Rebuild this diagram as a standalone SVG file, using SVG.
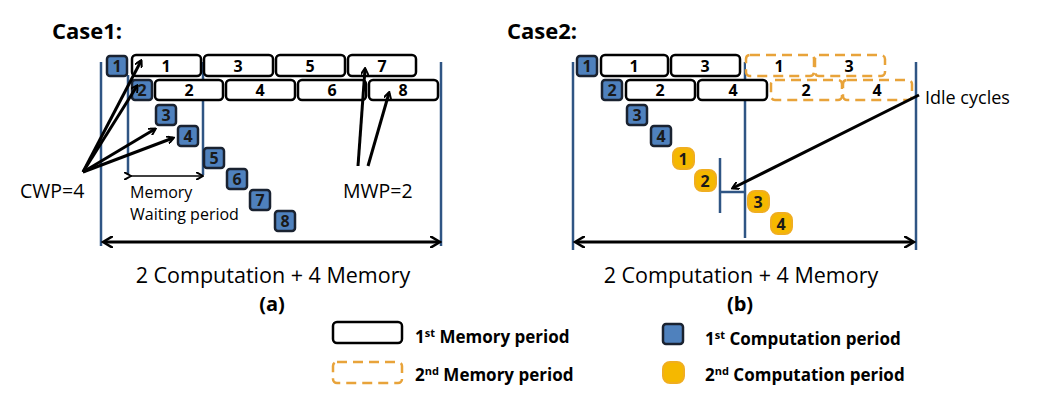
<svg xmlns="http://www.w3.org/2000/svg" width="1050" height="416" viewBox="0 0 1050 416">
<style>
text{font-family:"Open Sans","Noto Sans","Liberation Sans",sans-serif;fill:#000}
.b{font-weight:bold}
.mem{fill:#fff;stroke:#000;stroke-width:2.5}
.mem2{fill:#fff;stroke:#e8a33a;stroke-width:2.5;stroke-dasharray:10,6}
.cp{fill:#4f81bd;stroke:#1a2230;stroke-width:2.5}
.cp2{fill:#f5b800;stroke:#f0ae20;stroke-width:2}
.vl{stroke:#2f5584;stroke-width:2.5;fill:none}
.ar{stroke:#000;stroke-width:3;fill:none}
.n{font-size:16px;font-weight:bold;text-anchor:middle}
.ci{font-size:16px;font-weight:bold;text-anchor:middle;fill:#1a1a1a}
</style>
<defs>
<marker id="ah" markerWidth="8" markerHeight="8" refX="6" refY="4" orient="auto" markerUnits="userSpaceOnUse" viewBox="0 0 8 8"><path d="M0,0 L7,4 L0,8" fill="none" stroke="#000" stroke-width="2"/></marker>
<marker id="as" markerWidth="12" markerHeight="12" refX="9" refY="6" orient="auto-start-reverse" markerUnits="userSpaceOnUse"><path d="M0,0 L10,6 L0,12" fill="none" stroke="#000" stroke-width="2.5"/></marker>
</defs>
<text x="52" y="39" class="b" font-size="22">Case1:</text>
<text x="507" y="39" class="b" font-size="22">Case2:</text>

<g id="lines">
<line class="vl" x1="101" y1="62" x2="101" y2="246"/>
<line class="vl" x1="441" y1="62" x2="441" y2="246"/>
<line class="vl" x1="128" y1="75" x2="128" y2="175"/>
<line class="vl" x1="203" y1="62" x2="203" y2="175"/>
<line class="vl" x1="573" y1="62" x2="573" y2="250"/>
<line class="vl" x1="745" y1="62" x2="745" y2="238"/>
<line class="vl" x1="916" y1="62" x2="916" y2="250"/>
<line class="vl" x1="720" y1="158" x2="720" y2="213"/>
<line class="vl" x1="720" y1="192" x2="745" y2="192"/>
</g>

<g id="case1-mem">
<rect class="mem" x="132" y="55" width="69" height="21" rx="4"/><text class="n" x="166" y="72">1</text>
<rect class="mem" x="204" y="55" width="69" height="21" rx="4"/><text class="n" x="238" y="72">3</text>
<rect class="mem" x="276" y="55" width="69" height="21" rx="4"/><text class="n" x="310" y="72">5</text>
<rect class="mem" x="348" y="55" width="68" height="21" rx="4"/><text class="n" x="382" y="72">7</text>
<rect class="mem" x="155" y="80" width="68" height="20" rx="4"/><text class="n" x="189" y="96">2</text>
<rect class="mem" x="226" y="80" width="69" height="20" rx="4"/><text class="n" x="260" y="96">4</text>
<rect class="mem" x="298" y="80" width="68" height="20" rx="4"/><text class="n" x="332" y="96">6</text>
<rect class="mem" x="369" y="80" width="69" height="20" rx="4"/><text class="n" x="403" y="96">8</text>
</g>
<g id="case1-comp">
<rect class="cp" x="107" y="56" width="20" height="20" rx="3"/><text class="ci" x="117" y="72">1</text>
<rect class="cp" x="132" y="80" width="20" height="20" rx="3"/><text class="ci" x="142" y="96">2</text>
<rect class="cp" x="156" y="105" width="20" height="20" rx="3"/><text class="ci" x="166" y="121">3</text>
<rect class="cp" x="178" y="126" width="20" height="20" rx="3"/><text class="ci" x="188" y="142">4</text>
<rect class="cp" x="204" y="148" width="20" height="20" rx="3"/><text class="ci" x="214" y="164">5</text>
<rect class="cp" x="227" y="169" width="20" height="20" rx="3"/><text class="ci" x="237" y="185">6</text>
<rect class="cp" x="250" y="190" width="20" height="20" rx="3"/><text class="ci" x="260" y="206">7</text>
<rect class="cp" x="275" y="211" width="20" height="20" rx="3"/><text class="ci" x="285" y="227">8</text>
</g>

<g id="case2-mem">
<rect class="mem" x="601" y="55" width="67" height="21" rx="4"/><text class="n" x="634" y="72">1</text>
<rect class="mem" x="671" y="55" width="69" height="21" rx="4"/><text class="n" x="705" y="72">3</text>
<rect class="mem2" x="746" y="55" width="68" height="21" rx="4"/><text class="n" x="779" y="72">1</text>
<rect class="mem2" x="815" y="55" width="70" height="21" rx="4"/><text class="n" x="849" y="72">3</text>
<rect class="mem" x="626" y="80" width="69" height="20" rx="4"/><text class="n" x="660" y="96">2</text>
<rect class="mem" x="698" y="80" width="69" height="20" rx="4"/><text class="n" x="733" y="96">4</text>
<rect class="mem2" x="771" y="80" width="71" height="20" rx="4"/><text class="n" x="806" y="96">2</text>
<rect class="mem2" x="843" y="80" width="69" height="20" rx="4"/><text class="n" x="877" y="96">4</text>
</g>
<g id="case2-comp">
<rect class="cp" x="577" y="56" width="20" height="20" rx="3"/><text class="ci" x="587" y="72">1</text>
<rect class="cp" x="602" y="80" width="20" height="20" rx="3"/><text class="ci" x="612" y="96">2</text>
<rect class="cp" x="627" y="105" width="20" height="20" rx="3"/><text class="ci" x="637" y="121">3</text>
<rect class="cp" x="651" y="126" width="20" height="20" rx="3"/><text class="ci" x="661" y="142">4</text>
<rect class="cp2" x="673" y="148" width="21" height="21" rx="7"/><text class="ci" x="683" y="165">1</text>
<rect class="cp2" x="695" y="170" width="21" height="21" rx="7"/><text class="ci" x="705" y="187">2</text>
<rect class="cp2" x="748" y="191" width="21" height="21" rx="7"/><text class="ci" x="758" y="208">3</text>
<rect class="cp2" x="771" y="213" width="21" height="21" rx="7"/><text class="ci" x="781" y="230">4</text>
</g>

<g id="connectors">
<line class="ar" x1="83" y1="172" x2="141" y2="61" marker-end="url(#ah)"/>
<line class="ar" x1="83" y1="172" x2="137" y2="86" marker-end="url(#ah)"/>
<line class="ar" x1="83" y1="172" x2="155" y2="129" marker-end="url(#ah)"/>
<line class="ar" x1="83" y1="172" x2="173" y2="138" marker-end="url(#ah)"/>
<line class="ar" x1="358" y1="166" x2="365" y2="69" marker-end="url(#ah)"/>
<line class="ar" x1="368" y1="166" x2="389" y2="93" marker-end="url(#ah)"/>
<line x1="130" y1="176" x2="202" y2="176" stroke="#000" stroke-width="1.5" marker-start="url(#ah)" marker-end="url(#ah)"/>
<line class="ar" x1="919" y1="95" x2="733" y2="188" marker-end="url(#ah)"/>
<line class="ar" x1="104" y1="242" x2="439" y2="242" marker-start="url(#as)" marker-end="url(#as)"/>
<line class="ar" x1="576" y1="242" x2="913" y2="242" marker-start="url(#as)" marker-end="url(#as)"/>
</g>

<text x="20" y="198" font-size="19.5">CWP=4</text>
<text x="343" y="198" font-size="19.5">MWP=2</text>
<text x="130" y="198" font-size="16">Memory</text>
<text x="130" y="220" font-size="16">Waiting period</text>
<text x="925" y="104" font-size="18">Idle cycles</text>
<text x="273" y="283" font-size="21.5" text-anchor="middle">2 Computation + 4 Memory</text>
<text x="741" y="283" font-size="21.5" text-anchor="middle">2 Computation + 4 Memory</text>
<text x="272" y="311" font-size="20" class="b" text-anchor="middle">(a)</text>
<text x="740" y="311" font-size="20" class="b" text-anchor="middle">(b)</text>

<g id="legend">
<rect class="mem" x="333" y="322" width="69" height="21" rx="4"/>
<text x="415" y="343" font-size="17" class="b">1<tspan font-size="11" dy="-6">st</tspan><tspan dy="6"> Memory period</tspan></text>
<rect class="mem2" x="333" y="362" width="69" height="21" rx="4"/>
<text x="415" y="381" font-size="17" class="b">2<tspan font-size="11" dy="-6">nd</tspan><tspan dy="6"> Memory period</tspan></text>
<rect class="cp" x="663" y="324" width="20" height="20" rx="3"/>
<text x="705" y="345" font-size="17" class="b">1<tspan font-size="11" dy="-6">st</tspan><tspan dy="6"> Computation period</tspan></text>
<rect class="cp2" x="663" y="362" width="21" height="21" rx="7"/>
<text x="705" y="381" font-size="17" class="b">2<tspan font-size="11" dy="-6">nd</tspan><tspan dy="6"> Computation period</tspan></text>
</g>
</svg>
